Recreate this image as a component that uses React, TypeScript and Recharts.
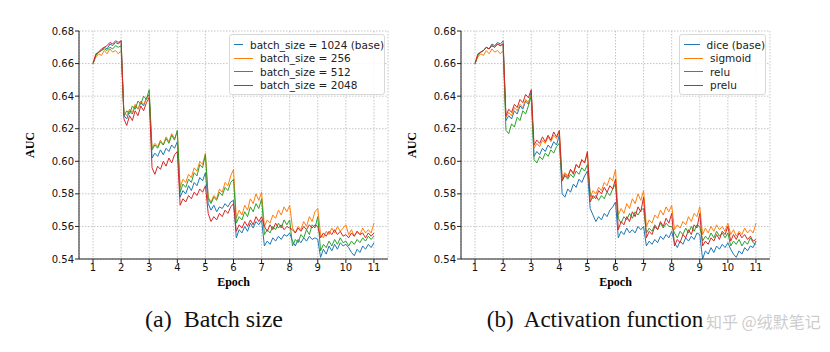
import { LineChart, Line, XAxis, YAxis, CartesianGrid } from 'recharts';

// AUC sampled 10 times per epoch, epoch 1.0 .. 11.0
const bs1024 = [
  0.660,
  0.665, 0.667, 0.668, 0.670, 0.669, 0.672, 0.671, 0.673, 0.672, 0.674,
  0.628, 0.626, 0.631, 0.629, 0.634, 0.632, 0.636, 0.634, 0.639, 0.641,
  0.602, 0.605, 0.603, 0.607, 0.604, 0.608, 0.606, 0.610, 0.608, 0.612,
  0.578, 0.582, 0.580, 0.585, 0.582, 0.587, 0.585, 0.590, 0.588, 0.593,
  0.574, 0.570, 0.573, 0.569, 0.572, 0.571, 0.574, 0.572, 0.575, 0.576,
  0.553, 0.558, 0.556, 0.560, 0.557, 0.562, 0.559, 0.563, 0.561, 0.564,
  0.548, 0.551, 0.549, 0.553, 0.551, 0.554, 0.552, 0.555, 0.554, 0.556,
  0.551, 0.548, 0.552, 0.550, 0.553, 0.551, 0.554, 0.552, 0.553, 0.552,
  0.541, 0.546, 0.543, 0.548, 0.545, 0.549, 0.546, 0.550, 0.548, 0.549,
  0.547, 0.544, 0.542, 0.546, 0.544, 0.548, 0.546, 0.549, 0.547, 0.550,
];
const bs256 = [
  0.660,
  0.664, 0.666, 0.665, 0.668, 0.666, 0.669, 0.667, 0.668, 0.666, 0.668,
  0.630, 0.628, 0.632, 0.630, 0.635, 0.632, 0.637, 0.635, 0.638, 0.640,
  0.608, 0.611, 0.609, 0.613, 0.610, 0.615, 0.612, 0.617, 0.614, 0.618,
  0.584, 0.589, 0.587, 0.592, 0.590, 0.596, 0.594, 0.600, 0.598, 0.605,
  0.578, 0.575, 0.579, 0.577, 0.583, 0.581, 0.587, 0.585, 0.591, 0.595,
  0.565, 0.570, 0.567, 0.573, 0.570, 0.577, 0.574, 0.580, 0.576, 0.581,
  0.560, 0.564, 0.562, 0.567, 0.565, 0.570, 0.567, 0.572, 0.569, 0.573,
  0.559, 0.556, 0.560, 0.558, 0.563, 0.560, 0.566, 0.563, 0.569, 0.571,
  0.555, 0.553, 0.557, 0.555, 0.559, 0.556, 0.560, 0.557, 0.559, 0.561,
  0.555, 0.558, 0.554, 0.557, 0.555, 0.559, 0.556, 0.558, 0.556, 0.562,
];
const bs512 = [
  0.660,
  0.665, 0.667, 0.668, 0.669, 0.668, 0.670, 0.669, 0.671, 0.670, 0.671,
  0.628, 0.631, 0.629, 0.634, 0.632, 0.637, 0.635, 0.640, 0.638, 0.644,
  0.607, 0.610, 0.608, 0.612, 0.610, 0.614, 0.611, 0.616, 0.613, 0.619,
  0.581, 0.586, 0.584, 0.589, 0.587, 0.593, 0.591, 0.598, 0.596, 0.604,
  0.577, 0.574, 0.578, 0.576, 0.581, 0.579, 0.584, 0.582, 0.587, 0.589,
  0.562, 0.566, 0.564, 0.569, 0.566, 0.572, 0.569, 0.574, 0.571, 0.577,
  0.555, 0.558, 0.556, 0.560, 0.558, 0.562, 0.559, 0.564, 0.561, 0.564,
  0.548, 0.552, 0.550, 0.555, 0.553, 0.558, 0.555, 0.561, 0.559, 0.566,
  0.545, 0.549, 0.547, 0.551, 0.548, 0.552, 0.549, 0.553, 0.550, 0.551,
  0.548, 0.551, 0.549, 0.552, 0.550, 0.553, 0.551, 0.554, 0.552, 0.554,
];
const bs2048 = [
  0.660,
  0.666, 0.667, 0.669, 0.670, 0.671, 0.673, 0.672, 0.674, 0.673, 0.674,
  0.626, 0.622, 0.628, 0.625, 0.631, 0.628, 0.634, 0.631, 0.636, 0.639,
  0.596, 0.592, 0.597, 0.595, 0.600, 0.597, 0.602, 0.599, 0.604, 0.606,
  0.573, 0.577, 0.575, 0.579, 0.577, 0.581, 0.579, 0.583, 0.581, 0.585,
  0.568, 0.563, 0.566, 0.564, 0.568, 0.566, 0.570, 0.568, 0.572, 0.574,
  0.557, 0.561, 0.559, 0.563, 0.560, 0.564, 0.561, 0.566, 0.563, 0.566,
  0.560, 0.557, 0.561, 0.558, 0.562, 0.559, 0.561, 0.558, 0.560, 0.559,
  0.558, 0.556, 0.559, 0.557, 0.560, 0.558, 0.561, 0.559, 0.561, 0.560,
  0.553, 0.556, 0.554, 0.557, 0.555, 0.558, 0.555, 0.557, 0.554, 0.555,
  0.553, 0.556, 0.554, 0.557, 0.555, 0.556, 0.553, 0.556, 0.554, 0.556,
];

const actDice = [
  0.660,
  0.665, 0.667, 0.668, 0.670, 0.669, 0.672, 0.671, 0.673, 0.672, 0.674,
  0.625, 0.628, 0.626, 0.631, 0.629, 0.634, 0.632, 0.637, 0.635, 0.643,
  0.603, 0.606, 0.604, 0.608, 0.606, 0.610, 0.608, 0.612, 0.610, 0.616,
  0.580, 0.578, 0.583, 0.581, 0.586, 0.584, 0.589, 0.587, 0.591, 0.594,
  0.571, 0.567, 0.563, 0.566, 0.564, 0.568, 0.566, 0.570, 0.572, 0.575,
  0.553, 0.557, 0.555, 0.559, 0.556, 0.558, 0.556, 0.560, 0.558, 0.560,
  0.548, 0.551, 0.549, 0.552, 0.550, 0.554, 0.552, 0.555, 0.553, 0.557,
  0.550, 0.547, 0.551, 0.549, 0.553, 0.551, 0.554, 0.552, 0.556, 0.555,
  0.540, 0.545, 0.543, 0.547, 0.544, 0.548, 0.546, 0.549, 0.547, 0.550,
  0.546, 0.543, 0.541, 0.545, 0.543, 0.547, 0.545, 0.548, 0.547, 0.551,
];
const actSigmoid = [
  0.660,
  0.664, 0.666, 0.665, 0.668, 0.666, 0.669, 0.667, 0.668, 0.666, 0.668,
  0.627, 0.630, 0.628, 0.633, 0.631, 0.635, 0.633, 0.638, 0.636, 0.641,
  0.608, 0.611, 0.609, 0.613, 0.611, 0.615, 0.612, 0.616, 0.614, 0.618,
  0.590, 0.593, 0.591, 0.595, 0.593, 0.598, 0.596, 0.601, 0.599, 0.605,
  0.578, 0.582, 0.580, 0.584, 0.582, 0.587, 0.585, 0.590, 0.588, 0.595,
  0.567, 0.571, 0.568, 0.574, 0.571, 0.577, 0.574, 0.580, 0.576, 0.582,
  0.560, 0.564, 0.562, 0.567, 0.565, 0.570, 0.567, 0.572, 0.569, 0.573,
  0.558, 0.561, 0.559, 0.563, 0.561, 0.566, 0.563, 0.568, 0.566, 0.572,
  0.555, 0.559, 0.556, 0.560, 0.557, 0.561, 0.558, 0.560, 0.557, 0.562,
  0.555, 0.558, 0.554, 0.557, 0.555, 0.559, 0.556, 0.558, 0.556, 0.562,
];
const actRelu = [
  0.660,
  0.665, 0.667, 0.668, 0.670, 0.669, 0.671, 0.670, 0.672, 0.671, 0.672,
  0.619, 0.617, 0.623, 0.621, 0.627, 0.625, 0.631, 0.629, 0.634, 0.640,
  0.601, 0.599, 0.603, 0.601, 0.605, 0.603, 0.607, 0.605, 0.609, 0.611,
  0.588, 0.591, 0.589, 0.592, 0.590, 0.594, 0.592, 0.596, 0.594, 0.598,
  0.580, 0.577, 0.579, 0.576, 0.579, 0.577, 0.581, 0.579, 0.583, 0.586,
  0.565, 0.562, 0.566, 0.564, 0.568, 0.565, 0.569, 0.567, 0.570, 0.571,
  0.556, 0.559, 0.557, 0.561, 0.558, 0.562, 0.559, 0.562, 0.560, 0.560,
  0.556, 0.553, 0.557, 0.555, 0.559, 0.556, 0.560, 0.557, 0.561, 0.560,
  0.551, 0.554, 0.552, 0.556, 0.553, 0.557, 0.554, 0.556, 0.553, 0.556,
  0.548, 0.551, 0.549, 0.552, 0.548, 0.551, 0.549, 0.553, 0.550, 0.549,
];
const actPrelu = [
  0.660,
  0.666, 0.667, 0.668, 0.670, 0.669, 0.671, 0.670, 0.672, 0.671, 0.672,
  0.628, 0.632, 0.630, 0.635, 0.633, 0.638, 0.636, 0.641, 0.639, 0.644,
  0.610, 0.613, 0.611, 0.615, 0.612, 0.616, 0.613, 0.618, 0.615, 0.619,
  0.588, 0.592, 0.590, 0.595, 0.592, 0.598, 0.596, 0.601, 0.599, 0.606,
  0.575, 0.579, 0.577, 0.582, 0.580, 0.584, 0.581, 0.585, 0.583, 0.589,
  0.558, 0.563, 0.561, 0.566, 0.563, 0.569, 0.566, 0.572, 0.569, 0.578,
  0.553, 0.557, 0.555, 0.560, 0.558, 0.563, 0.560, 0.565, 0.562, 0.568,
  0.548, 0.552, 0.550, 0.555, 0.553, 0.558, 0.555, 0.561, 0.559, 0.568,
  0.548, 0.551, 0.549, 0.553, 0.551, 0.555, 0.552, 0.557, 0.555, 0.560,
  0.551, 0.555, 0.552, 0.556, 0.553, 0.555, 0.552, 0.554, 0.551, 0.552,
];

const epochTicks = [1, 2, 3, 4, 5, 6, 7, 8, 9, 10, 11];
const aucTicks = [0.54, 0.56, 0.58, 0.6, 0.62, 0.64, 0.66, 0.68];

const COLORS = ['#1f77b4', '#ff7f0e', '#2ca02c', '#d62728'];

interface SeriesDef {
  name: string;
  values: number[];
}

const batchSeries: SeriesDef[] = [
  { name: 'batch_size = 1024 (base)', values: bs1024 },
  { name: 'batch_size = 256', values: bs256 },
  { name: 'batch_size = 512', values: bs512 },
  { name: 'batch_size = 2048', values: bs2048 },
];
const activationSeries: SeriesDef[] = [
  { name: 'dice (base)', values: actDice },
  { name: 'sigmoid', values: actSigmoid },
  { name: 'relu', values: actRelu },
  { name: 'prelu', values: actPrelu },
];

function buildRows(series: SeriesDef[]) {
  return series[0].values.map((_, i) => {
    const row: Record<string, number> = { epoch: 1 + i / 10 };
    series.forEach((s, k) => {
      row[`s${k}`] = s.values[i];
    });
    return row;
  });
}

const tickFont = { fontSize: 10, fontFamily: 'DejaVu Sans', fill: '#111' };
const labelFont = { fontSize: 12, fontFamily: 'Liberation Serif', fontWeight: 'bold', fill: '#000' };

// matplotlib-style legend box, laid over the top-right corner of the axes
function LegendBox({ series, left, width }: { series: SeriesDef[]; left: number; width: number }) {
  return (
    <div
      style={{
        position: 'absolute',
        left,
        top: 34,
        width,
        height: 61,
        boxSizing: 'border-box',
        background: 'rgba(255,255,255,0.85)',
        border: '1px solid #d8d8d8',
        borderRadius: 3,
        padding: '3px 0 0 4px',
        fontFamily: 'DejaVu Sans',
        fontSize: 10.5,
        color: '#222',
      }}
    >
      {series.map((s, k) => (
        <div key={s.name} style={{ display: 'flex', alignItems: 'center', height: 13.5 }}>
          <span style={{ display: 'inline-block', width: 19, height: 0, borderTop: `1.3px solid ${COLORS[k]}`, marginRight: 7 }} />
          <span style={{ whiteSpace: 'pre' }}>{s.name}</span>
        </div>
      ))}
    </div>
  );
}

function AucPanel({ series }: { series: SeriesDef[] }) {
  const rows = buildRows(series);
  return (
    <LineChart width={415} height={300} data={rows} margin={{ top: 31, right: 27, left: 0, bottom: 0 }}>
      <CartesianGrid stroke="#b8b8b8" strokeDasharray="1.5 1.5" strokeWidth={0.8} />
      <XAxis
        dataKey="epoch"
        type="number"
        domain={[0.5, 11.5]}
        ticks={epochTicks}
        tick={tickFont}
        tickSize={4}
        tickMargin={1}
        stroke="#222"
        height={41}
        label={{ value: 'Epoch', position: 'insideBottom', offset: 14, style: labelFont }}
      />
      <XAxis xAxisId="top" orientation="top" dataKey="epoch" type="number" domain={[0.5, 11.5]} height={0} tick={false} tickLine={false} stroke="#222" />
      <YAxis
        type="number"
        domain={[0.54, 0.68]}
        ticks={aucTicks}
        tickFormatter={(v: number) => v.toFixed(2)}
        tick={tickFont}
        tickSize={4}
        tickMargin={1}
        stroke="#222"
        width={79}
        label={{ value: 'AUC', angle: -90, position: 'insideLeft', offset: 30, style: { ...labelFont, textAnchor: 'middle' } }}
      />
      <YAxis yAxisId="right" orientation="right" domain={[0.54, 0.68]} width={0} tick={false} tickLine={false} stroke="#222" />
      {series.map((s, k) => (
        <Line
          key={s.name}
          dataKey={`s${k}`}
          name={s.name}
          stroke={COLORS[k]}
          strokeWidth={1}
          dot={false}
          isAnimationActive={false}
        />
      ))}
    </LineChart>
  );
}

export default function App() {
  return (
    <div style={{ position: 'absolute', left: 0, top: 0, width: 830, height: 352, background: '#fff', overflow: 'hidden' }}>
      <div style={{ position: 'absolute', left: 0, top: 0 }}>
        <AucPanel series={batchSeries} />
      </div>
      <LegendBox series={batchSeries} left={229} width={156} />
      <div style={{ position: 'absolute', left: 382, top: 0 }}>
        <AucPanel series={activationSeries} />
      </div>
      <LegendBox series={activationSeries} left={679} width={87} />
      <div style={{ position: 'absolute', left: 114, top: 306, width: 200, textAlign: 'center', fontFamily: 'Liberation Serif', fontSize: 24, color: '#111' }}>
        (a)&nbsp; Batch size
      </div>
      <div style={{ position: 'absolute', left: 445, top: 307, width: 300, textAlign: 'center', fontFamily: 'Liberation Serif', fontSize: 23, color: '#111' }}>
        (b)&nbsp; Activation function
      </div>
      <div style={{ position: 'absolute', left: 706, top: 309, fontFamily: 'Noto Sans CJK SC', fontSize: 16, color: 'rgba(190,190,190,0.8)', whiteSpace: 'nowrap' }}>
        知乎 @绒默笔记
      </div>
    </div>
  );
}
